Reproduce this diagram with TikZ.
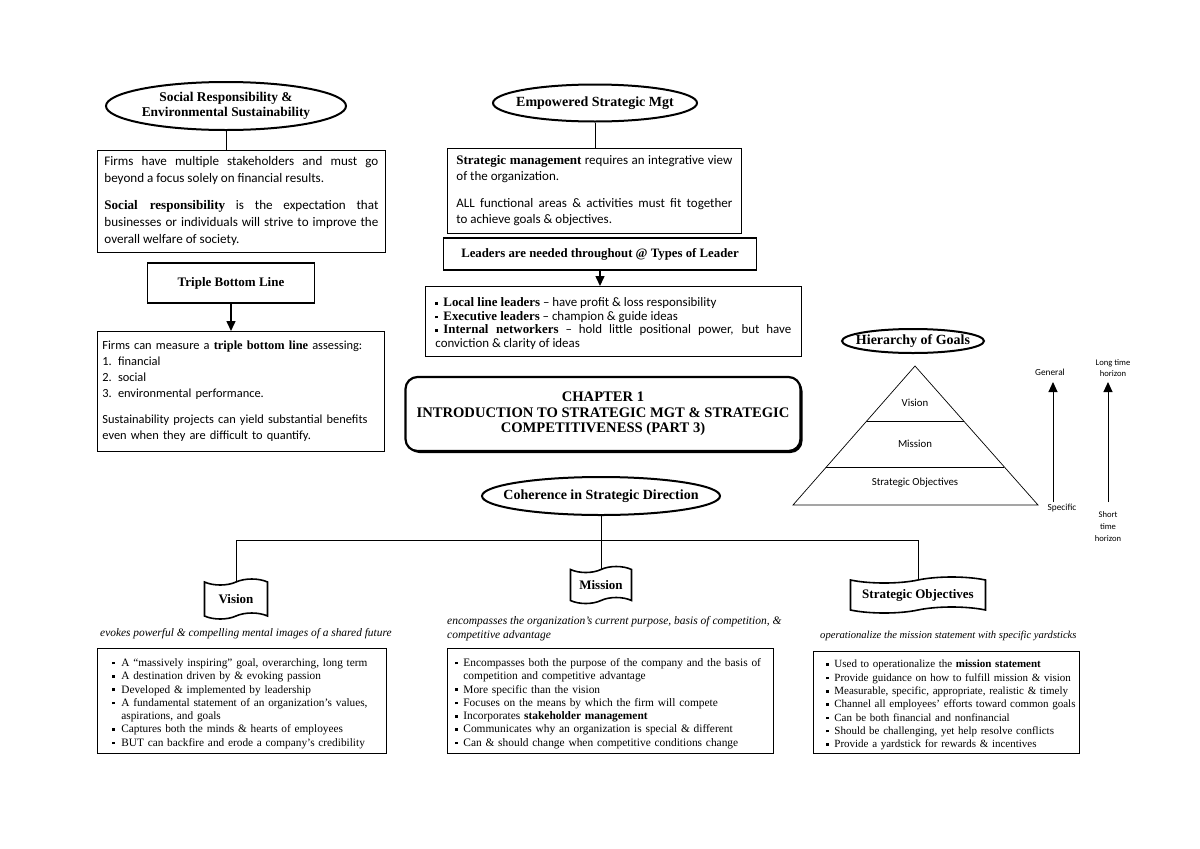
\documentclass[tikz,border=0pt]{standalone}
\usepackage{fontspec}
\setmainfont{Liberation Serif}
\newfontfamily\bodyfont{Carlito}
\usetikzlibrary{shapes.geometric,shapes.symbols,arrows.meta,calc,shadows}
\newcommand\bitem[2]{\par\noindent\hangindent=\dimexpr#1+#2\relax\hangafter=1\hspace*{#1}\makebox[#2][l]{\raisebox{2pt}{\rule{2.6pt}{2.6pt}}}}
\begin{document}
\begin{tikzpicture}[x=1pt,y=-1pt,
  every node/.style={inner sep=0pt},
  thinline/.style={line width=0.8pt},
  oval/.style={draw, ellipse, line width=2pt, fill=white, font=\bfseries\fontsize{14}{14.5}\selectfont, inner sep=0pt},
  txtbox/.style={draw, line width=0.8pt, anchor=north west, inner ysep=3pt},
  thickbox/.style={draw, line width=1.8pt, font=\bfseries\fontsize{13}{14}\selectfont},
  tapebox/.style={draw, tape, line width=1.6pt, font=\bfseries\fontsize{13}{14}\selectfont, tape bend height=6pt},
  small/.style={font=\bodyfont\fontsize{10.8}{12}\selectfont, align=center},
  tiny/.style={font=\bodyfont\fontsize{9.3}{12}\selectfont, align=center},
  caption/.style={font=\itshape\fontsize{11.4}{14}\selectfont, align=left},
  arr/.style={-{Triangle[width=9pt,length=10pt]}}
]
\fill[white] (0,0) rectangle (1200,849);
\useasboundingbox (0,0) rectangle (1200,849);

% ---------- Social responsibility column ----------
\node[oval, minimum width=240pt, minimum height=48pt, font=\bfseries\fontsize{13.4}{15}\selectfont] (e1) at (226,106)
  {\makebox[0pt]{\begin{tabular}{@{}c@{}}Social Responsibility \&\\Environmental Sustainability\end{tabular}}};
\node[txtbox, text width=274pt, inner xsep=7pt, minimum height=102pt, align=justify,
  font=\bodyfont\fontsize{13.1}{17}\selectfont] (b1) at (97,150)
  {Firms have multiple stakeholders and must go\linebreak beyond a focus solely on financial results.\par\vspace{10pt}%
   {\rmfamily\bfseries Social responsibility} is the expectation that\linebreak businesses or individuals will strive to improve the\linebreak overall welfare of society.};
\draw[thinline] (e1.south) -- (e1.south |- b1.north);

\node[thickbox, minimum width=167pt, minimum height=40pt] (tbl) at (231,283) {Triple Bottom Line};
\node[txtbox, text width=277pt, inner xsep=5pt, minimum height=120pt, align=left,
  font=\bodyfont\fontsize{12.4}{16}\selectfont] (b2) at (97,331)
  {\mbox{Firms can measure a {\rmfamily\bfseries triple bottom line} assessing:}\\ 1. financial\\ 2. social\\ 3. environmental performance.\\[10pt]
   \mbox{Sustainability projects can yield substantial benefits}\\ \mbox{even when they are difficult to quantify.}};
\draw[arr, line width=1.5pt] (tbl.south) -- (tbl.south |- b2.north);

% ---------- Empowered strategic management ----------
\node[oval, minimum width=204pt, minimum height=37pt] (e2) at (595,103) {\makebox[0pt]{Empowered Strategic Mgt}};
\node[txtbox, text width=276pt, inner xsep=9pt, minimum height=85pt, align=justify,
  font=\bodyfont\fontsize{13}{16}\selectfont] (b3) at (447,148)
  {{\rmfamily\bfseries Strategic management} requires an integrative view\linebreak of the organization.\par\vspace{11pt}%
   ALL functional areas \& activities must fit together\linebreak to achieve goals \& objectives.};
\draw[thinline] (e2.south) -- (e2.south |- b3.north);

\node[thickbox, minimum width=313pt, minimum height=32pt, font=\bfseries\fontsize{12.8}{14}\selectfont] (lead) at (600,254) {Leaders are needed throughout @ Types of Leader};
\node[txtbox, text width=356pt, inner xsep=10pt, minimum height=70pt, align=justify,
  font=\bodyfont\fontsize{12.9}{13.5}\selectfont] (types) at (425,286)
  {\bitem{0pt}{8pt}{\rmfamily\bfseries Local line leaders} – have profit \& loss responsibility
   \bitem{0pt}{8pt}{\rmfamily\bfseries Executive leaders} – champion \& guide ideas
   \bitem{0pt}{8pt}{\rmfamily\bfseries Internal networkers} – hold little positional power, but have\linebreak conviction \& clarity of ideas};
\draw[arr, line width=1.5pt] (lead.south) -- (lead.south |- types.north);

% ---------- Chapter title ----------
\node[draw, rounded corners=12pt, line width=2.2pt, fill=white,
  drop shadow={opacity=1, shadow xshift=2pt, shadow yshift=-2pt, fill=black},
  minimum width=395pt, minimum height=74pt, align=center,
  font=\bfseries\fontsize{14.6}{15.3}\selectfont] (chap) at (603,414)
  {CHAPTER 1\\INTRODUCTION TO STRATEGIC MGT \& STRATEGIC\\COMPETITIVENESS (PART 3)};

% ---------- Hierarchy of goals ----------
\node[oval, minimum width=142pt, minimum height=24pt] (e3) at (913,341) {\makebox[0pt]{Hierarchy of Goals}};
\coordinate (apex) at (915,366);
\coordinate (pbl) at (793,505);
\coordinate (pbr) at (1038,505);
\draw[line width=0.7pt] (apex) -- (pbl) -- (pbr) -- cycle;
\draw[line width=0.7pt] ($(apex)!0.396!(pbl)$) -- ($(apex)!0.396!(pbr)$);
\draw[line width=0.7pt] ($(apex)!0.727!(pbl)$) -- ($(apex)!0.727!(pbr)$);
\node[small] (pv) at (915,403) {Vision};
\node[small] (pm) at (915,444) {Mission};
\node[small] (ps) at (915,483) {Strategic Objectives};

\node[tiny] (gen) at (1050,372) {General};
\node[tiny] (spec) at (1062,508) {Specific};
\coordinate (g1) at (1053,502);
\coordinate (g2) at (1053,382);
\draw[line width=1pt, arr] (g1) -- (g2);
\node[tiny, font=\bodyfont\fontsize{8.6}{11.5}\selectfont] (lth) at (1113,368) {Long time\\horizon};
\node[tiny, font=\bodyfont\fontsize{8.6}{12}\selectfont] (sth) at (1108,527) {Short\\time\\horizon};
\coordinate (t1) at (1108,502);
\coordinate (t2) at (1108,382);
\draw[line width=1pt, arr] (t1) -- (t2);

% ---------- Coherence in strategic direction ----------
\node[oval, minimum width=238pt, minimum height=38pt] (e4) at (601,496) {\makebox[0pt]{Coherence in Strategic Direction}};
\node[tapebox, minimum width=63pt, minimum height=40pt] (tv) at (236,599) {Vision};
\node[tapebox, minimum width=61pt, minimum height=37pt] (tm) at (601,585) {Mission};
\node[tapebox, minimum width=135pt, minimum height=36pt] (ts) at (918,595) {Strategic Objectives};
\coordinate (hy) at (0,540);
\draw[thinline] (tv.north) -- (tv.north |- hy) -- (ts.north |- hy) -- (ts.north);
\draw[thinline] (e4.south) -- (tm.north);

\node[caption, anchor=west] (cv) at (100,634) {evokes powerful \& compelling mental images of a shared future};
\node[caption, anchor=north west, font=\itshape\fontsize{11.5}{14}\selectfont] (cm) at (447,616) {encompasses the organization’s current purpose, basis of competition, \&\\competitive advantage};
\node[caption, anchor=west, font=\itshape\fontsize{10.6}{13}\selectfont] (cs) at (820,636) {operationalize the mission statement with specific yardsticks};

\node[txtbox, text width=283pt, inner xsep=3pt, minimum height=105pt, align=left,
  font=\fontsize{11.3}{13.3}\selectfont] (vb) at (97,648)
  {\bitem{12pt}{9pt}A “massively inspiring” goal, overarching, long term
   \bitem{12pt}{9pt}A destination driven by \& evoking passion
   \bitem{12pt}{9pt}Developed \& implemented by leadership
   \bitem{12pt}{9pt}A fundamental statement of an organization’s values,\newline aspirations, and goals
   \bitem{12pt}{9pt}Captures both the minds \& hearts of employees
   \bitem{12pt}{9pt}BUT can backfire and erode a company’s credibility};

\node[txtbox, text width=320pt, inner xsep=3pt, minimum height=105pt, align=left,
  font=\fontsize{11.4}{13.3}\selectfont] (mb) at (447,648)
  {\bitem{5pt}{8pt}Encompasses both the purpose of the company and the basis of\newline competition and competitive advantage
   \bitem{5pt}{8pt}More specific than the vision
   \bitem{5pt}{8pt}Focuses on the means by which the firm will compete
   \bitem{5pt}{8pt}Incorporates {\bfseries stakeholder management}
   \bitem{5pt}{8pt}Communicates why an organization is special \& different
   \bitem{5pt}{8pt}Can \& should change when competitive conditions change};

\node[txtbox, text width=260pt, inner xsep=3pt, minimum height=102pt, align=left,
  font=\fontsize{11}{13.3}\selectfont] (sb) at (813,651)
  {\bitem{10pt}{8pt}Used to operationalize the {\bfseries mission statement}
   \bitem{10pt}{8pt}Provide guidance on how to fulfill mission \& vision
   \bitem{10pt}{8pt}Measurable, specific, appropriate, realistic \& timely
   \bitem{10pt}{8pt}Channel all employees’ efforts toward common goals
   \bitem{10pt}{8pt}Can be both financial and nonfinancial
   \bitem{10pt}{8pt}Should be challenging, yet help resolve conflicts
   \bitem{10pt}{8pt}Provide a yardstick for rewards \& incentives};
\end{tikzpicture}
\end{document}
